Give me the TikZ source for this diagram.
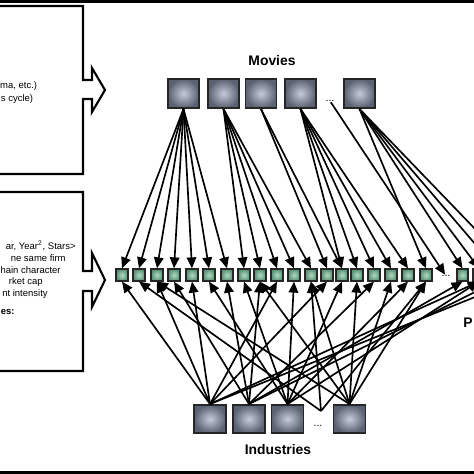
\documentclass[tikz,border=0pt]{standalone}
\usepackage{fontspec}
\setmainfont{Liberation Sans}
\usetikzlibrary{arrows.meta}
\definecolor{filmin}{HTML}{C4CCDB}
\definecolor{filmout}{HTML}{5A6272}
\definecolor{prodin}{HTML}{B0DAC2}
\definecolor{prodout}{HTML}{5C9276}

\begin{document}
\begin{tikzpicture}[x=0.02cm,y=-0.02cm,
		film/.style={draw=black!85,line width=1.1pt,inner sep=0pt,minimum width=0.62cm,minimum height=0.58cm,inner color=filmin,outer color=filmout},
		branch/.style={film,minimum width=0.64cm,minimum height=0.56cm},
		prod/.style={draw=black!85,line width=1pt,inner sep=0pt,minimum size=0.23cm,inner color=prodin,outer color=prodout},
		link/.style={line width=0.95pt,-{Triangle[length=0.22cm,width=0.19cm]}},
		frame/.style={line width=1.2pt},
		note/.style={anchor=east,inner sep=0pt,font=\fontsize{5.4}{7}\selectfont},
		title/.style={inner sep=0pt,font=\fontsize{7.9}{9}\selectfont\bfseries},
		gap/.style={inner sep=0pt,font=\fontsize{6}{7}\selectfont}]
		\useasboundingbox ( 0, 0 ) rectangle ( 474, 474 );

		% рамки
		\fill ( 0, 0 ) rectangle ( 474, 2.5 );
		\fill ( 0, 470.5 ) rectangle ( 474, 474 );

		% блок 1
		\draw [frame] ( -5, 6 ) -- ( 83, 6 ) -- ( 83, 80 ) -- ( 92, 80 ) -- ( 92, 68 ) -- ( 105, 90 ) -- ( 92, 112 ) -- ( 92, 99 ) -- ( 83, 99 ) -- ( 83, 174 ) -- ( -5, 174 );
		\node [note] (t1) at ( 37.5, 86 ) {ma, etc.)};
		\node [note] (t2) at ( 33.5, 99 ) {s cycle)};

		% блок 2
		\draw [frame] ( -5, 192 ) -- ( 83, 192 ) -- ( 83, 271 ) -- ( 92, 271 ) -- ( 92, 253 ) -- ( 105, 280 ) -- ( 92, 307 ) -- ( 92, 291 ) -- ( 83, 291 ) -- ( 83, 371 ) -- ( -5, 371 );
		\node [note] (t3) at ( 76, 246 ) {ar, Year\textsuperscript{2}, Stars>};
		\node [note] (t4) at ( 66, 258 ) {ne same firm};
		\node [note] (t5) at ( 61, 270 ) {hain character};
		\node [note] (t6) at ( 43, 282 ) {rket cap};
		\node [note] (t7) at ( 48, 294 ) {nt intensity};
		\node [note,font=\fontsize{5.4}{7}\selectfont\bfseries] (t8) at ( 15, 312 ) {es:};

		% фильмы
		\node [title] (movies) at ( 272, 61 ) {Movies};
		\node [film] (m1) at ( 183.5, 93.5 ) {};
		\node [film] (m2) at ( 223.5, 93.5 ) {};
		\node [film] (m3) at ( 261, 93.5 ) {};
		\node [film] (m4) at ( 300.5, 93.5 ) {};
		\node [gap] (mdots) at ( 330, 101 ) {...};
		\node [film] (m5) at ( 359.5, 93.5 ) {};

		% продукты
		\node [prod] (p1) at ( 122, 275 ) {};
		\node [prod] (p2) at ( 139, 275 ) {};
		\node [prod] (p3) at ( 157, 275 ) {};
		\node [prod] (p4) at ( 174, 275 ) {};
		\node [prod] (p5) at ( 192, 275 ) {};
		\node [prod] (p6) at ( 209, 275 ) {};
		\node [prod] (p7) at ( 227, 275 ) {};
		\node [prod] (p8) at ( 244, 275 ) {};
		\node [prod] (p9) at ( 260, 275 ) {};
		\node [prod] (p10) at ( 277, 275 ) {};
		\node [prod] (p11) at ( 294, 275 ) {};
		\node [prod] (p12) at ( 311, 275 ) {};
		\node [prod] (p13) at ( 327, 275 ) {};
		\node [prod] (p14) at ( 342, 275 ) {};
		\node [prod] (p15) at ( 357, 275 ) {};
		\node [prod] (p16) at ( 374, 275 ) {};
		\node [prod] (p17) at ( 391, 275 ) {};
		\node [prod] (p18) at ( 408, 275 ) {};
		\node [prod] (p19) at ( 426, 275 ) {};
		\node [gap] (pdots) at ( 446, 276 ) {...};
		\node [prod] (p20) at ( 462.5, 275 ) {};
		\node [prod] (p21) at ( 479, 275 ) {};
		\node [prod] (p22) at ( 496, 275 ) {};
		\node [prod] (p23) at ( 513, 275 ) {};
		\node [title,anchor=west] (prods) at ( 463, 323 ) {P};

		% отрасли
		\node [branch] (ind1) at ( 210, 419 ) {};
		\node [branch] (ind2) at ( 249, 419 ) {};
		\node [branch] (ind3) at ( 287.5, 419 ) {};
		\node [gap] (idots) at ( 318, 426 ) {...};
		\coordinate (ivee) at ( 321, 411 );
		\node [branch] (ind4) at ( 349.5, 419 ) {};
		\node [title] (industries) at ( 278, 450 ) {Industries};

		% фильм 1
		\draw [link] (m1.south) -- (p1.north);
		\draw [link] (m1.south) -- (p2.north);
		\draw [link] (m1.south) -- (p3.north);
		\draw [link] (m1.south) -- (p4.north);
		\draw [link] (m1.south) -- (p5.north);
		\draw [link] (m1.south) -- (p6.north);
		\draw [link] (m1.south) -- (p7.north);

		% фильм 2
		\draw [link] (m2.south) -- (p8.north);
		\draw [link] (m2.south) -- (p9.north);
		\draw [link] (m2.south) -- (p10.north);
		\draw [link] (m2.south) -- (p11.north);
		\draw [link] (m2.south) -- (p12.north);

		% фильм 3
		\draw [link] (m3.south) -- (p13.north);
		\draw [link] (m3.south) -- (p14.north);

		% фильм 4
		\draw [link] (m4.south) -- (p14.north);
		\draw [link] (m4.south) -- (p15.north);
		\draw [link] (m4.south) -- (p16.north);
		\draw [link] (m4.south) -- (p17.north);
		\draw [link] (m4.south) -- (p18.north);

		% фильм ...
		\draw [link] (mdots) -- (pdots);

		% фильм 5
		\draw [link] (m5.south) -- (p19.north);
		\draw [link] (m5.south) -- (p20.north);
		\draw [link] (m5.south) -- (p21.north);
		\draw [link] (m5.south) -- (p22.north);
		\draw [link] (m5.south) -- (p23.north);

		% отрасль 1
		\draw [link] (ind1.north) -- (p1.south);
		\draw [link] (ind1.north) -- (p3.south);
		\draw [link] (ind1.north) -- (p5.south);
		\draw [link] (ind1.north) -- (p10.south);
		\draw [link] (ind1.north) -- (p13.south);
		\draw [link] (ind1.north) -- (p21.south);
		\draw [link] (ind1.north) -- (p23.south);

		% отрасль 2
		\draw [link] (ind2.north) -- (p4.south);
		\draw [link] (ind2.north) -- (p7.south);
		\draw [link] (ind2.north) -- (p9.south);
		\draw [link] (ind2.north) -- (p16.south);
		\draw [link] (ind2.north) -- (p20.south);
		\draw [link] (ind2.north) -- (p22.south);

		% отрасль 3
		\draw [link] (ind3.north) -- (p6.south);
		\draw [link] (ind3.north) -- (p8.south);
		\draw [link] (ind3.north) -- (p11.south);
		\draw [link] (ind3.north) -- (p14.south);
		\draw [link] (ind3.north) -- (p18.south);
		\draw [link] (ind3.north) -- (p21.south);

		% отрасль ...
		\draw [link] (ivee) -- (p2.south);
		\draw [link] (ivee) -- (p12.south);
		\draw [link] (ivee) -- (p19.south);

		% отрасль 4
		\draw [link] (ind4.north) -- (p3.south);
		\draw [link] (ind4.north) -- (p9.south);
		\draw [link] (ind4.north) -- (p12.south);
		\draw [link] (ind4.north) -- (p15.south);
		\draw [link] (ind4.north) -- (p17.south);
		\draw [link] (ind4.north) -- (p19.south);
	\end{tikzpicture}
\end{document}
